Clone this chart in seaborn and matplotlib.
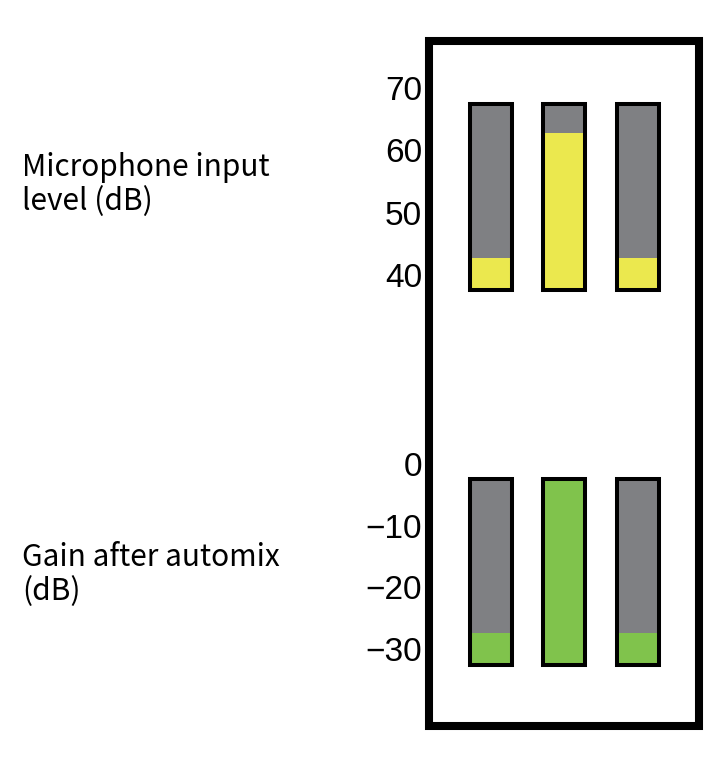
import matplotlib
matplotlib.use("Agg")
import matplotlib.pyplot as plt
from matplotlib.patches import Rectangle
import seaborn as sns
import pandas as pd

# meter data (dB)
channels = ["Ch1", "Ch2", "Ch3"]
mic_level = [42.7, 62.8, 42.7]
gain_level = [-27.4, -2.5, -27.4]
mic_range = [37.5, 67.5]
gain_range = [-32.5, -2.5]
mic_ticks = [40, 50, 60, 70]
mic_tick_labels = ["40", "50", "60", "70"]
gain_ticks = [-30, -20, -10, 0]
gain_tick_labels = ["\u221230", "\u221220", "\u221210", "0"]

W, H = 708, 766
GRAY = "#7f8083"
YELLOW = "#ebe84e"
GREEN = "#80c34c"

sns.set_style("white")
fig = plt.figure(figsize=(W / 100, H / 100), dpi=100)


def px_axes(left, right, ylim, ref_val, ref_px, px_per_db):
    top = ref_px - (ylim[1] - ref_val) * px_per_db
    bottom = ref_px + (ref_val - ylim[0]) * px_per_db
    return fig.add_axes([left / W, (H - bottom) / H, (right - left) / W, (bottom - top) / H])


def meter(ax, levels, rng, fill_color, ticks, labels, ylim):
    df = pd.DataFrame({"ch": channels, "level": levels})
    df["full"] = rng[1] - rng[0]
    df["lit"] = df["level"] - rng[0]
    common = dict(data=df, x="ch", width=0.571, errorbar=None, saturation=1,
                  bottom=rng[0], ax=ax)
    sns.barplot(y="full", color=GRAY, linewidth=0, **common)
    sns.barplot(y="lit", color=fill_color, linewidth=0, **common)
    sns.barplot(y="full", color="black", fill=False, linewidth=2.9, **common)
    ax.set_xlim(-0.789, 2.776)
    ax.set_ylim(*ylim)
    ax.set_yticks(ticks, labels=labels)
    ax.set_xticks([])
    ax.set_xlabel("")
    ax.set_ylabel("")
    ax.tick_params(axis="y", length=0, pad=8, labelsize=24, labelcolor="black")
    for t in ax.get_yticklabels():
        t.set_fontfamily("Liberation Sans")
    for s in ax.spines.values():
        s.set_visible(False)
    ax.patch.set_alpha(0)


ax1 = px_axes(433, 695, (30, 75), 70, 88, 6.23)
meter(ax1, mic_level, mic_range, YELLOW, mic_ticks, mic_tick_labels, (30, 75))

ax2 = px_axes(433, 695, (-40, 5), 0, 464, 6.17)
meter(ax2, gain_level, gain_range, GREEN, gain_ticks, gain_tick_labels, (-40, 5))

# outer frame
fig.add_artist(Rectangle((429 / W, (H - 726) / H), (699 - 429) / W, (726 - 40.5) / H,
                         transform=fig.transFigure, fill=False, edgecolor="black",
                         linewidth=5.8))

# side labels (baseline of the last line)
fig.text(22 / W, (H - 210) / H, "Microphone input\nlevel (dB)", ha="left", va="baseline",
         fontsize=21.5, family=["Noto Sans CJK JP", "DejaVu Sans"], linespacing=1.12,
         color="black")
fig.text(22 / W, (H - 600) / H, "Gain after automix\n(dB)", ha="left", va="baseline",
         fontsize=21.5, family=["Noto Sans CJK JP", "DejaVu Sans"], linespacing=1.12,
         color="black")

fig.savefig("out.png", dpi=100)
